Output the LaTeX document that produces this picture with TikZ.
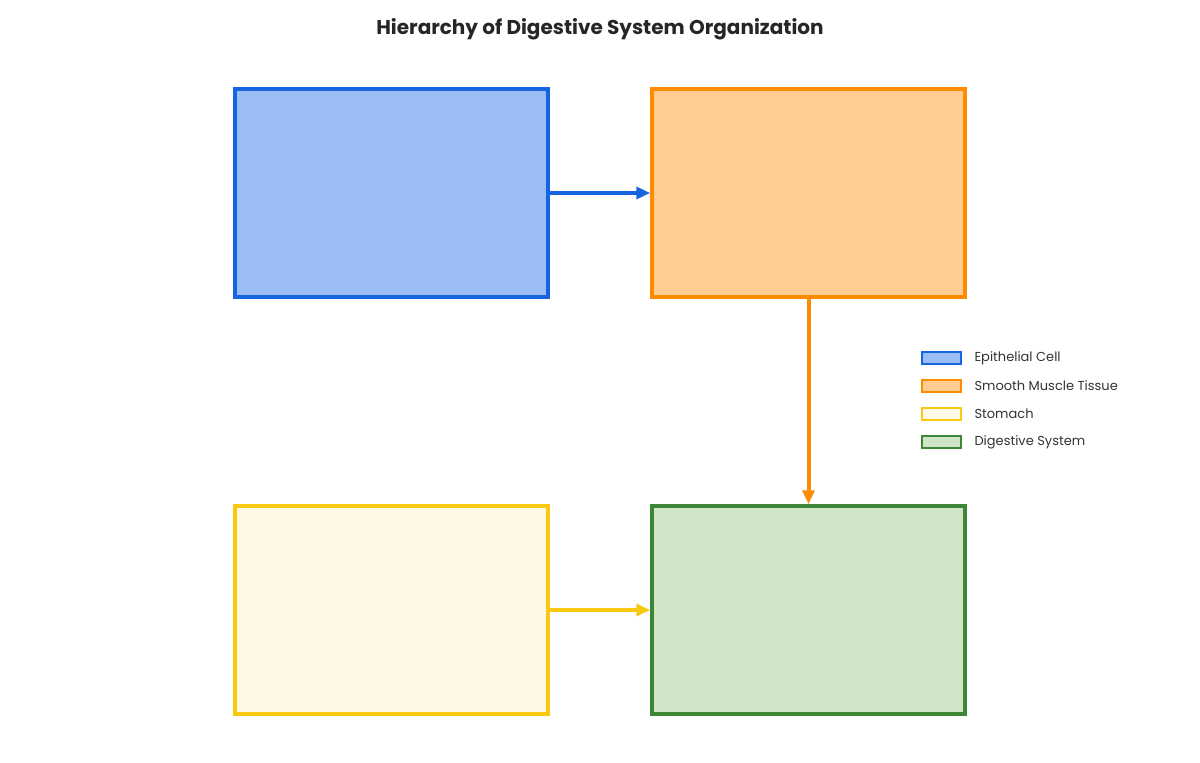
\documentclass[tikz,border=0pt]{standalone}
\usepackage{fontspec}
\setmainfont{Poppins}
\usetikzlibrary{arrows.meta}
\begin{document}
\begin{tikzpicture}[x=1pt,y=-1pt,
 box/.style={line width=3.5pt},
 arr/.style={line width=4pt,-{Triangle[length=14pt,width=12pt]}},
 sw/.style={line width=2.5pt},
 lt/.style={anchor=west,font=\fontsize{13}{15}\selectfont,text=black!80}]
\useasboundingbox (0,0) rectangle (1200,763);
\definecolor{bB}{HTML}{1565E0}\definecolor{bF}{HTML}{9BBDF5}
\definecolor{oB}{HTML}{FF8C00}\definecolor{oF}{HTML}{FFCD92}
\definecolor{yB}{HTML}{F9C912}\definecolor{yF}{HTML}{FFF8E7}
\definecolor{gB}{HTML}{3E8635}\definecolor{gF}{HTML}{CFE5C8}
\node[font=\bfseries\fontsize{20}{24}\selectfont,text=black!85] (title) at (600,29) {Hierarchy of Digestive System Organization};
\node[box,draw=bB,fill=bF,minimum width=313pt,minimum height=208pt] (a) at (391.5,193) {};
\node[box,draw=oB,fill=oF,minimum width=313pt,minimum height=208pt] (b) at (808.5,193) {};
\node[box,draw=yB,fill=yF,minimum width=313pt,minimum height=208pt] (c) at (391.5,610) {};
\node[box,draw=gB,fill=gF,minimum width=313pt,minimum height=208pt] (d) at (808.5,610) {};
\draw[arr,bB] (a.east) -- (b.west);
\draw[arr,oB] (b.south) -- (d.north);
\draw[arr,yB] (c.east) -- (d.west);
\foreach \y/\bc/\fc/\t [count=\i] in {358/bB/bF/Epithelial Cell,386/oB/oF/Smooth Muscle Tissue,414/yB/yF/Stomach,442/gB/gF/Digestive System}{
 \node[sw,draw=\bc,fill=\fc,minimum width=39pt,minimum height=12pt,inner sep=0pt] (s\i) at (941.5,\y) {};
 \node[lt] (l\i) at (971,\y) {\t};
}
\end{tikzpicture}
\end{document}
